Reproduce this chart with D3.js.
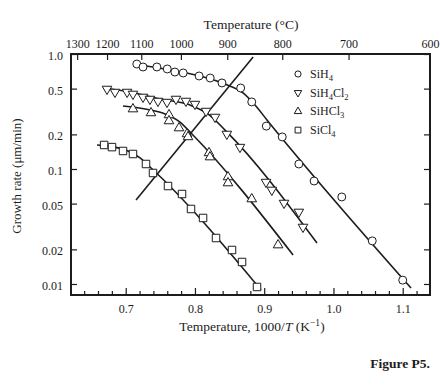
<!DOCTYPE html>
<html>
<head>
<meta charset="utf-8">
<script src="https://cdn.jsdelivr.net/npm/d3@7"></script>
<style>
  body { margin: 0; background: #fff; }
  svg { display: block; }
  text { font-family: "Liberation Serif", "Times New Roman", serif; fill: #1c1c1c; }
  .tick line { stroke: #1c1c1c; stroke-width: 1.2; }
</style>
</head>
<body>
<svg id="graph"></svg>
<script>
// x = 1000/T (1/K), y = growth rate (um/min)
var sih4Points = [[0.716,0.818],[0.725,0.771],[0.745,0.771],[0.760,0.741],[0.771,0.697],[0.783,0.684],
  [0.806,0.644],[0.822,0.618],[0.839,0.560],[0.866,0.506],[0.882,0.383],[0.903,0.236],[0.926,0.190],
  [0.950,0.1105],[0.972,0.0786],[1.012,0.0571],[1.056,0.0237],[1.100,0.0108]];
var sih2cl2Points = [[0.673,0.496],[0.6845,0.467],[0.702,0.467],[0.7105,0.449],[0.725,0.423],[0.735,0.406],
  [0.7466,0.390],[0.7596,0.382],[0.7726,0.406],[0.787,0.390],[0.800,0.367],[0.816,0.319],[0.829,0.283],
  [0.846,0.2015],[0.865,0.155],[0.9026,0.077],[0.911,0.0657],[0.9286,0.0506],[0.950,0.0423],[0.956,0.0313]];
var sihcl3Points = [[0.7105,0.332],[0.7365,0.307],[0.7625,0.295],[0.7625,0.2615],[0.777,0.227],[0.7885,0.2015],
  [0.790,0.190],[0.8203,0.138],[0.8217,0.127],[0.8477,0.0852],[0.8477,0.0755],[0.882,0.0548],[0.920,0.0218]];
var sicl4Points = [[0.6688,0.1617],[0.6802,0.155],[0.6961,0.1434],[0.7105,0.135],[0.7293,0.1105],[0.7394,0.0923],
  [0.7611,0.0711],[0.7813,0.0606],[0.7943,0.0449],[0.8117,0.0375],[0.8304,0.0251],[0.8535,0.01975],
  [0.868,0.01553],[0.8896,0.00942]];

// hand drawn fit curves
var sih4Fit = [[0.7207,0.802],[0.7568,0.741],[0.8073,0.644],[0.8434,0.548],[0.8694,0.458],[0.8867,0.360],[0.904,0.267],[1.112,0.00923]];
var sih2cl2Fit = [[0.6687,0.506],[0.7062,0.467],[0.7495,0.406],[0.7929,0.360],[0.8188,0.301],[0.8434,0.218],[0.9762,0.0227]];
var sihcl3Fit = [[0.6961,0.353],[0.7279,0.332],[0.7568,0.301],[0.7784,0.256],[0.7957,0.2015],[0.9417,0.01787]];
var sicl4Fit = [[0.6586,0.1617],[0.6845,0.155],[0.7033,0.1434],[0.7206,0.1247],[0.7351,0.1041],[0.8954,0.00887]];
var crossLine = [[0.7149,0.0538],[0.884,0.942]];

var xTicks = [0.7, 0.8, 0.9, 1.0, 1.1];
var xLabels = ["0.7", "0.8", "0.9", "1.0", "1.1"];
var xMinorTicks = [0.64,0.66,0.68,0.72,0.74,0.76,0.78,0.82,0.84,0.86,0.88,0.92,0.94,0.96,0.98,1.02,1.04,1.06,1.08,1.12];
var yTicks = [1, 0.5, 0.2, 0.1, 0.05, 0.02, 0.01];
var yLabels = ["1.0", "0.5", "0.2", "0.1", "0.05", "0.02", "0.01"];
var celsiusTicks = [1300, 1200, 1100, 1000, 900, 800, 700, 600];

var legendLabels = [["SiH","4"], ["SiH","4","Cl","2"], ["SiHCl","3"], ["SiCl","4"]];

var screen = {width: 440, height: 387};
var frame = {left: 71, right: 430, top: 54, bottom: 295};
var ink = "#1c1c1c";

var svg = d3.select("#graph").attr("width", screen.width).attr("height", screen.height);

var xScale = d3.scaleLinear().domain([0.621, 1.1394]).range([frame.left, frame.right]);
var yScale = d3.scaleLog().domain([0.00802, 1]).range([frame.bottom, frame.top]);

// axes, ticks point inward
var fmtY = function(d){ return yLabels[yTicks.indexOf(d)]; };
var fmtX = function(d){ return xLabels[xTicks.indexOf(d)]; };

var leftAxis = svg.append("g")
  .attr("transform", "translate(" + frame.left + ",0)")
  .call(d3.axisLeft(yScale).tickValues(yTicks).tickFormat(fmtY).tickSize(-6).tickPadding(8));
leftAxis.selectAll("text").attr("font-size", 12).attr("dy", "0.45em");

svg.append("g")
  .attr("transform", "translate(" + frame.right + ",0)")
  .call(d3.axisRight(yScale).tickValues(yTicks).tickFormat("").tickSize(-6));

svg.append("g")
  .attr("transform", "translate(0," + frame.bottom + ")")
  .call(d3.axisBottom(xScale).tickValues(xMinorTicks).tickFormat("").tickSize(-4));

var bottomAxis = svg.append("g")
  .attr("transform", "translate(0," + frame.bottom + ")")
  .call(d3.axisBottom(xScale).tickValues(xTicks).tickFormat(fmtX).tickSize(-7).tickPadding(9));
bottomAxis.selectAll("text").attr("font-size", 12);

// celsius axis (printed a few px left of the exact conversion in the source figure)
var toInv = function(c){ return 1000 / (c + 273.15); };
var topAxis = svg.append("g")
  .attr("transform", "translate(-4," + frame.top + ")")
  .call(d3.axisTop(xScale).tickValues(celsiusTicks.map(toInv))
    .tickFormat(function(d, i){ return celsiusTicks[i]; }).tickSize(-6).tickPadding(6));
topAxis.selectAll("text").attr("font-size", 12);
topAxis.selectAll(".tick").filter(function(d){ return d > xScale.domain()[1]; })
  .select("line").remove();

svg.selectAll(".domain").remove();
svg.selectAll(".tick text").style("fill", ink);

// frame
svg.append("rect")
  .attr("x", frame.left).attr("y", frame.top)
  .attr("width", frame.right - frame.left).attr("height", frame.bottom - frame.top)
  .attr("fill", "none").attr("stroke", ink).attr("stroke-width", 2);

// fit lines
var line = d3.line()
  .x(function(d){ return xScale(d[0]); })
  .y(function(d){ return yScale(d[1]); })
  .curve(d3.curveMonotoneX);

var fits = [sih4Fit, sih2cl2Fit, sihcl3Fit, sicl4Fit, crossLine];
svg.append("g").selectAll("path")
  .data(fits).enter().append("path")
  .attr("d", line)
  .attr("fill", "none").attr("stroke", ink).attr("stroke-width", 1.6);

// markers
var series = [
  {points: sih4Points, shape: d3.symbolCircle, size: 50, rot: 0},
  {points: sih2cl2Points, shape: d3.symbolTriangle, size: 40, rot: 180},
  {points: sihcl3Points, shape: d3.symbolTriangle, size: 40, rot: 0},
  {points: sicl4Points, shape: d3.symbolSquare, size: 56, rot: 0}
];

series.forEach(function(s){
  svg.append("g").selectAll("path")
    .data(s.points).enter().append("path")
    .attr("d", d3.symbol().type(s.shape).size(s.size))
    .attr("transform", function(d){
      return "translate(" + xScale(d[0]) + "," + yScale(d[1]) + ") rotate(" + s.rot + ")";
    })
    .attr("fill", "#fff").attr("stroke", ink).attr("stroke-width", 1);
});

// legend
var legend = svg.append("g").attr("transform", "translate(298,74)");
var legendRows = legend.selectAll("g").data(series).enter().append("g")
  .attr("transform", function(d, i){ return "translate(0," + (i * 18.7) + ")"; });
legendRows.append("path")
  .attr("d", function(s){ return d3.symbol().type(s.shape).size(s.size * 0.6)(); })
  .attr("transform", function(s){ return "rotate(" + s.rot + ")"; })
  .attr("fill", "#fff").attr("stroke", ink).attr("stroke-width", 1);
var legendText = legendRows.append("text").attr("x", 12).attr("y", 4).attr("font-size", 12);
legendText.each(function(d, i){
  var t = d3.select(this);
  legendLabels[i].forEach(function(part, j){
    var ts = t.append("tspan").text(part);
    if (j % 2 == 1) ts.attr("font-size", 8.5).attr("dy", 3);
    else if (j > 0) ts.attr("dy", -3);
  });
});

// titles
svg.append("text").attr("x", 251).attr("y", 29).attr("text-anchor", "middle")
  .attr("font-size", 13.5).text("Temperature (\u00B0C)");

var xTitle = svg.append("text").attr("x", 252).attr("y", 331).attr("text-anchor", "middle").attr("font-size", 13.5);
xTitle.append("tspan").text("Temperature, 1000/");
xTitle.append("tspan").attr("font-style", "italic").text("T");
xTitle.append("tspan").text(" (K");
xTitle.append("tspan").attr("font-size", 9.5).attr("dy", -5).text("\u22121");
xTitle.append("tspan").attr("dy", 5).text(")");

svg.append("text")
  .attr("transform", "translate(21,176) rotate(-90)")
  .attr("text-anchor", "middle").attr("font-size", 13)
  .text("Growth rate (\u03BCm/min)");

svg.append("text").attr("x", 430).attr("y", 368).attr("text-anchor", "end")
  .attr("font-size", 13.5).attr("font-weight", "bold").text("Figure P5.");
</script>
</body>
</html>
